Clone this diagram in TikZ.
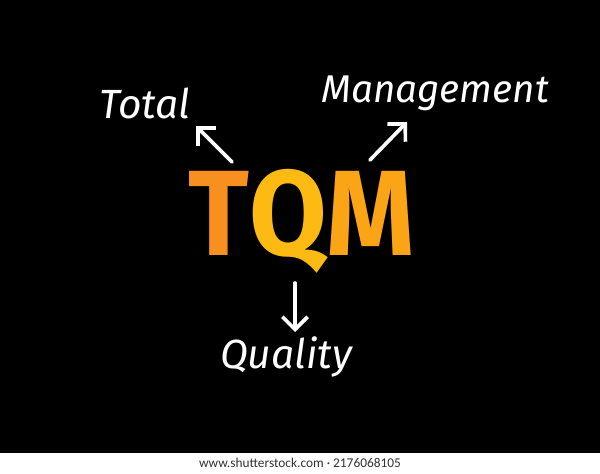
\documentclass[tikz,border=0pt]{standalone}
\usepackage{fontspec}
\setmainfont{Fira Sans}
\newfontfamily\barfont{Carlito}
\usepackage{xcolor}
\usetikzlibrary{arrows.meta, positioning, calc}

\definecolor{tqmorange}{HTML}{F7901E}
\definecolor{tqmgold}{HTML}{FDBA12}
\definecolor{tqmamber}{HTML}{FBA516}
\definecolor{bargray}{HTML}{333333}

\tikzset{
	word/.style={text=white, font=\itshape\fontsize{29}{32}\selectfont, inner sep=0pt},
	arr/.style={white, line width=2.6pt, line cap=round, -{Straight Barb[length=9pt, width=18pt, line width=2.6pt]}}
}

\begin{document}
\begin{tikzpicture}
	% Define constants
	\def\W{15}     % width of picture
	\def\H{11.825} % height of picture
	\def\B{0.5}    % height of bottom bar
	
	% Background and bottom bar
	\useasboundingbox (0,0) rectangle (\W,\H);
	\fill[white] (0,0) rectangle (\W,\B);
	\fill[black] (0,\B) rectangle (\W,\H);
	
	% Central term
	\node[inner sep=0pt, yscale=1.08, font=\bfseries\fontsize{80}{82}\selectfont] (tqm) at (7.55,6.3)
		{\textcolor{tqmorange}{T}\textcolor{tqmgold}{Q}\textcolor{tqmamber}{M}};
	
	% Words of the acronym
	\node[word] (total) at (3.625,9.25) {Total};
	\node[word, font=\itshape\fontsize{27.5}{30}\selectfont] (management) at (10.875,9.5) {Management};
	\node[word] (quality) at (7.15,2.9) {Quality};
	
	% Ends of the arrows
	\coordinate (t1) at (5.8,7.775);
	\coordinate (t2) at (4.9,8.675);
	\coordinate (m1) at (9.25,7.825);
	\coordinate (m2) at (10.175,8.775);
	\coordinate (q1) at (7.375,4.75);
	\coordinate (q2) at (7.375,3.525);
	
	% Draw arrows from TQM outwards
	\draw[arr] (t1) -- (t2);
	\draw[arr] (m1) -- (m2);
	\draw[arr] (q1) -- (q2);
	
	% Text in the bottom bar
	\node[text=bargray, font=\barfont\fontsize{9.5}{11}\selectfont] (credit) at (\W/2,\B/2)
		{www.shutterstock.com · 2176068105};
	
\end{tikzpicture}
\end{document}
